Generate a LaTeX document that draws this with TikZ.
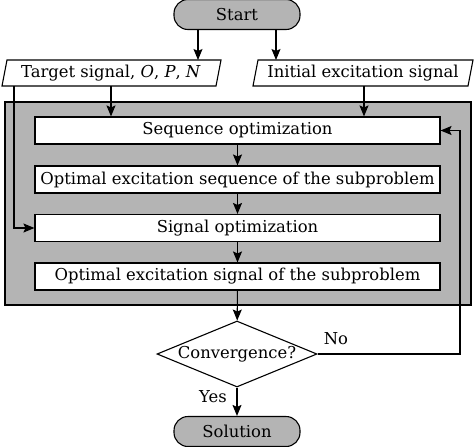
\documentclass[tikz,border=0pt]{standalone}
\usepackage{fontspec}
\setmainfont{DejaVu Serif}
\usetikzlibrary{shapes.geometric,arrows.meta}
\definecolor{panelgray}{RGB}{180,180,180}
\tikzset{
  base/.style={draw=black, line width=1.1pt, font=\fontsize{16.4}{18}\selectfont, inner sep=0pt},
  term/.style={base, fill=panelgray, rounded corners=14pt, minimum width=126pt, minimum height=30pt},
  procbox/.style={base, fill=white, minimum width=405pt, minimum height=27pt},
  panel/.style={draw=black, line width=1.1pt, fill=panelgray, minimum width=466pt, minimum height=203pt, inner sep=0pt},
  decision/.style={base, fill=white, diamond, minimum width=160pt, minimum height=66pt, aspect=2.42},
  iobox/.style={draw=black, line width=1.1pt, fill=white},
  lbl/.style={font=\fontsize{16.4}{18}\selectfont, inner sep=0pt},
  arr/.style={line width=1.1pt, -{Stealth[length=11pt,width=9pt,inset=2pt]}}
}
\begin{document}
\begin{tikzpicture}[x=1pt,y=-1pt]
\useasboundingbox (0,0) rectangle (474,447);
% start
\node[term] (start) at (237,14.5) {Start};
% parallelograms
\draw[iobox] (7,60) -- (221,60) -- (216,86) -- (2,86) -- cycle;
\draw[iobox] (258,60) -- (473,60) -- (468,86) -- (253,86) -- cycle;
\node[lbl] (target) at (111,73) {Target signal, \textit{O}, \textit{P}, \textit{N}};
\node[lbl] (init) at (363,73) {Initial excitation signal};
\coordinate (p1top) at (198,60);
\coordinate (p2top) at (276,60);
\coordinate (p1bot) at (111,86);
\coordinate (p1left) at (14,86);
\coordinate (p2bot) at (364,86);
% panel
\node[panel] (panel) at (238,203.5) {};
% process boxes
\node[procbox] (seq) at (237.5,130.5) {Sequence optimization};
\node[procbox] (oseq) at (237.5,179.5) {Optimal excitation sequence of the subproblem};
\node[procbox] (sig) at (237.5,228) {Signal optimization};
\node[procbox] (osig) at (237.5,276.5) {Optimal excitation signal of the subproblem};
% decision
\node[decision] (dec) at (237,354) {Convergence?};
% solution
\node[term] (sol) at (237,431.5) {Solution};
\coordinate (noturn) at (460,354);
% connectors
\draw[arr] (start.south -| p1top) -- (p1top);
\draw[arr] (start.south -| p2top) -- (p2top);
\draw[arr] (p1bot) -- (seq.north -| p1bot);
\draw[arr] (p2bot) -- (seq.north -| p2bot);
\draw[arr] (p1left) |- (sig.west);
\draw[arr] (seq) -- (oseq);
\draw[arr] (oseq) -- (sig);
\draw[arr] (sig) -- (osig);
\draw[arr] (osig) -- (dec);
\draw[arr] (dec) -- (sol);
\draw[arr] (dec.east) -- (noturn) |- (seq.east);
\node[lbl] (nolbl) at (336,339) {No};
\node[lbl] (yeslbl) at (213,397) {Yes};
\end{tikzpicture}
\end{document}
